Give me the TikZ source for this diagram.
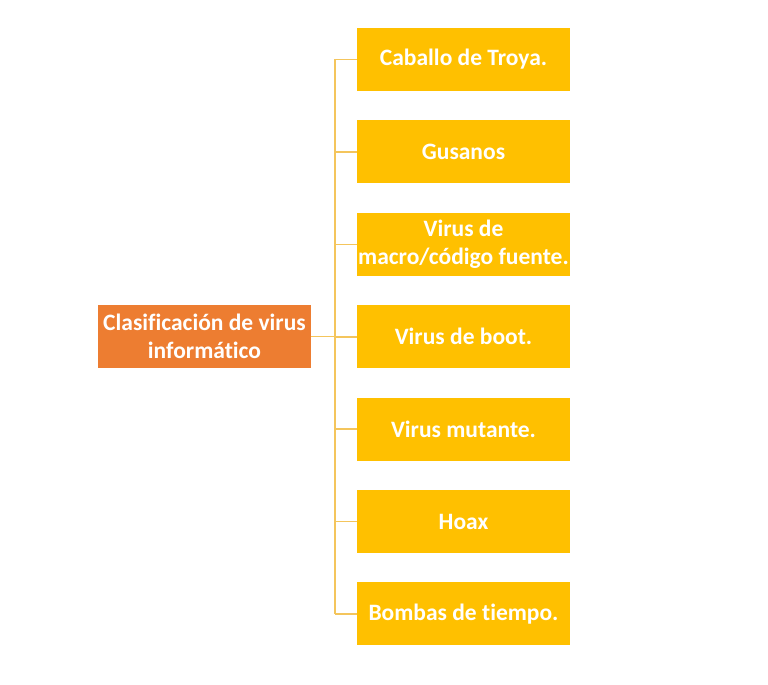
\documentclass[tikz,border=0pt]{standalone}
\usepackage{fontspec}
\setmainfont{Carlito}[Ligatures=NoCommon]
\usetikzlibrary{positioning}
\definecolor{rootorange}{HTML}{ED7D31}
\definecolor{leafgold}{HTML}{FFC000}
\definecolor{linkgold}{HTML}{F4C55C}
\tikzset{
  box/.style={minimum width=213pt, minimum height=63pt, inner sep=1pt,
    text=white, align=center, font=\fontsize{23.5}{28}\selectfont\bfseries},
  rootbox/.style={box, fill=rootorange},
  leafbox/.style={box, fill=leafgold},
  link/.style={draw=linkgold, line width=1.6pt}
}
\begin{document}
\begin{tikzpicture}[node distance={29pt}]
  \useasboundingbox (0,0) rectangle (768pt,-685pt);

  \node (root) [rootbox] at (204.5pt,-336.5pt) {Clasificación de virus\\informático};

  \node (troya) [leafbox] at (463.5pt,-59.5pt) {Caballo de Troya.};
  \node (gusanos) [leafbox, below=of troya] {Gusanos};
  \node (macro) [leafbox, below=of gusanos] {Virus de\\macro/código fuente.};
  \node (boot) [leafbox, below=of macro] {Virus de boot.};
  \node (mutante) [leafbox, below=of boot] {Virus mutante.};
  \node (hoax) [leafbox, below=of mutante] {Hoax};
  \node (bombas) [leafbox, below=of hoax] {Bombas de tiempo.};

  \coordinate (spine) at (335pt,0);

  \draw[link] (root.east) to (spine |- root.east);
  \draw[link] (spine |- troya.west) to (spine |- bombas.west);
  \foreach \leaf in {troya,gusanos,macro,boot,mutante,hoax,bombas}
    \draw[link] (spine |- \leaf.west) to (\leaf.west);

\end{tikzpicture}
\end{document}
